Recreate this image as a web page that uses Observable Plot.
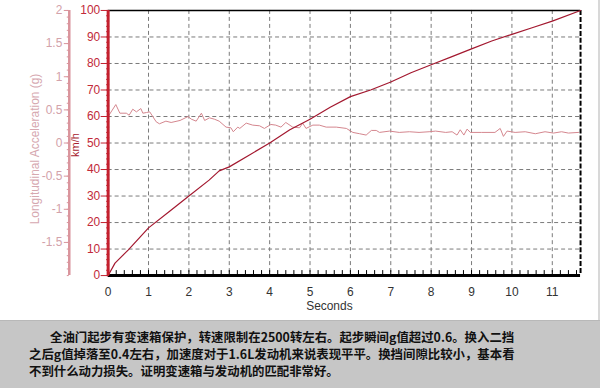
<!DOCTYPE html>
<html>
<head>
<meta charset="utf-8">
<script src="https://cdn.jsdelivr.net/npm/d3@7"></script>
<script src="https://cdn.jsdelivr.net/npm/@observablehq/plot@0.6"></script>
<style>
  html, body { margin: 0; padding: 0; background: #ffffff; }
  #wrap { width: 600px; height: 388px; position: relative; overflow: hidden; background: #fff; }
  #chart { height: 320px; border-right: 2px solid #d8d8d8; box-sizing: border-box; width: 600px; }
  #caption {
    height: 68px; background: #c6c6c6; box-sizing: border-box;
    padding: 8px 0 0 29px; font-family: "Noto Sans CJK SC", sans-serif;
    font-weight: bold; font-size: 12.4px; line-height: 17px; color: #111; white-space: nowrap;
    border-top: 1px solid #b8b8b8;
  }
</style>
</head>
<body>
<div id="wrap">
  <div id="chart"></div>
  <div id="caption">
    <span style="padding-left:21px"></span>全油门起步有变速箱保护，转速限制在2500转左右。起步瞬间g值超过0.6。换入二挡<br>之后g值掉落至0.4左右，加速度对于1.6L发动机来说表现平平。换挡间隙比较小，基本看<br>不到什么动力损失。证明变速箱与发动机的匹配非常好。
  </div>
</div>
<script>
// Speed (km/h) vs time (s)
const speedTime = [0, 0.17, 0.5, 1, 1.5, 2, 2.5, 2.75, 3, 3.5, 4, 4.5, 5, 5.5, 6, 6.5, 7, 7.5, 8, 8.5, 9, 9.5, 10, 10.5, 11, 11.7];
const speedKmh  = [0, 4.7, 9.7, 18, 24, 30, 36, 39.5, 41, 45.5, 50, 55, 59, 63.5, 67.5, 70, 73, 76.5, 79.5, 82.5, 85.5, 88.5, 91, 93.5, 96, 100];

// Longitudinal acceleration (g) vs time (s)
const accTime = [0, 0.19, 0.29, 0.45, 0.52, 0.61, 0.7, 0.81, 0.86, 0.95, 1.03, 1.19, 1.27, 1.43, 1.56, 1.78, 1.98, 2.06, 2.18, 2.31, 2.39, 2.51, 2.63, 2.75, 2.92, 3.04, 3.1, 3.21, 3.26, 3.42, 3.58, 3.75, 3.87, 4.03, 4.15, 4.28, 4.4, 4.57, 4.74, 4.82, 4.9, 5.07, 5.23, 5.4, 5.65, 5.9, 6.06, 6.23, 6.39, 6.52, 6.64, 6.72, 6.97, 7.21, 7.46, 7.7, 7.95, 8.11, 8.36, 8.52, 8.64, 8.72, 8.81, 8.89, 8.97, 9.25, 9.58, 9.71, 9.79, 9.88, 10.08, 10.33, 10.58, 10.82, 11.03, 11.23, 11.4, 11.65];
const accG    = [0.40, 0.58, 0.45, 0.45, 0.42, 0.51, 0.47, 0.52, 0.45, 0.46, 0.47, 0.32, 0.29, 0.33, 0.31, 0.34, 0.40, 0.36, 0.33, 0.45, 0.34, 0.38, 0.36, 0.33, 0.24, 0.23, 0.17, 0.24, 0.22, 0.30, 0.27, 0.26, 0.22, 0.28, 0.27, 0.24, 0.31, 0.24, 0.23, 0.30, 0.22, 0.27, 0.27, 0.24, 0.24, 0.22, 0.16, 0.14, 0.12, 0.19, 0.19, 0.16, 0.18, 0.16, 0.17, 0.16, 0.17, 0.18, 0.16, 0.17, 0.12, 0.20, 0.12, 0.21, 0.16, 0.16, 0.16, 0.22, 0.10, 0.18, 0.16, 0.17, 0.14, 0.17, 0.15, 0.17, 0.15, 0.16];

// Axes
const timeMax = 11.7;
const timeTicks = [0, 1, 2, 3, 4, 5, 6, 7, 8, 9, 10, 11];
const speedTicks = [0, 10, 20, 30, 40, 50, 60, 70, 80, 90, 100];
const accTicks = [2, 1.5, 1, 0.5, 0, -0.5, -1, -1.5];
const accLabels = ["2", "1.5", "1", "0.5", "0", "-0.5", "-1", "-1.5"];

// acceleration axis (-2..2 g) shares the frame with speed (0..100 km/h)
const accToSpeed = g => 50 + 25 * g;

const speedData = speedTime.map((t, i) => ({t, v: speedKmh[i]}));
const accData = accTime.map((t, i) => ({t, v: accToSpeed(accG[i])}));

const minorT = d3.range(0, timeMax, 0.2);
const minorV = d3.range(0, 100.01, 2);
const minorA = d3.range(-20, 21).map(k => accToSpeed(k / 10));

const chart = Plot.plot({
  width: 600,
  height: 320,
  marginLeft: 108,
  marginRight: 18,
  marginTop: 10,
  marginBottom: 44,
  x: {domain: [0, timeMax], label: null},
  y: {domain: [0, 100], label: null},
  style: {fontFamily: "'Liberation Sans', Arial, sans-serif", fontSize: "12px", background: "transparent"},
  marks: [
    Plot.gridX(timeTicks.slice(1), {stroke: "#7a7a7a", strokeOpacity: 1, strokeDasharray: "4,3"}),
    Plot.gridY(speedTicks.slice(1, -1), {stroke: "#7a7a7a", strokeOpacity: 1, strokeDasharray: "4,3"}),
    // frame lines
    Plot.ruleY([100], {stroke: "#000", strokeWidth: 1.5}),
    Plot.ruleX([timeMax], {stroke: "#000", strokeWidth: 2, strokeDasharray: "5,2"}),
    // series
    Plot.line(accData, {x: "t", y: "v", stroke: "#d4868e", strokeWidth: 1}),
    Plot.line(speedData, {x: "t", y: "v", stroke: "#a3182f", strokeWidth: 1.2}),
    // bottom axis
    Plot.ruleY([0], {stroke: "#000", strokeWidth: 3}),
    Plot.axisX(minorT, {tickSize: 4, dy: -5, tickFormat: () => "", stroke: "#000", label: null}),
    Plot.axisX(timeTicks, {tickSize: 0, tickPadding: 6, dy: 6, fill: "#333", fontSize: 12, label: null}),
    Plot.text(["Seconds"], {frameAnchor: "bottom", textAnchor: "middle", lineAnchor: "middle", dx: -15, dy: 31, fill: "#333", fontSize: 12}),
    // speed axis
    Plot.ruleX([0], {stroke: "#c3202e", strokeWidth: 3}),
    Plot.axisY(minorV, {tickSize: 3, dx: 1.5, tickFormat: () => "", stroke: "#c3202e", label: null}),
    Plot.axisY(speedTicks, {tickSize: 7, tickPadding: 1, stroke: "#c3202e", fill: "#c22a3a", fontSize: 12, label: null}),
    Plot.text(["km/h"], {frameAnchor: "left", textAnchor: "middle", lineAnchor: "middle", dx: -33, dy: 2, rotate: -90, fill: "#a81c30", fontSize: 11}),
    // acceleration axis
    Plot.ruleX([0], {dx: -39, stroke: "#d9949c", strokeWidth: 2.5}),
    Plot.axisY(minorA, {tickSize: 2, dx: -39, tickFormat: () => "", stroke: "#d9949c", label: null}),
    Plot.axisY(accTicks.map(accToSpeed), {tickSize: 4, tickPadding: 2, dx: -40, stroke: "#d9949c", fill: "#d3a2aa", fontSize: 12,
      tickFormat: v => accLabels[accTicks.indexOf((v - 50) / 25)], label: null}),
    Plot.text(["Longitudinal Acceleration (g)"], {frameAnchor: "left", textAnchor: "middle", lineAnchor: "middle", dx: -73, dy: 6, rotate: -90, fill: "#d6a8b0", fontSize: 12})
  ]
});
document.getElementById("chart").appendChild(chart);
</script>
</body>
</html>
